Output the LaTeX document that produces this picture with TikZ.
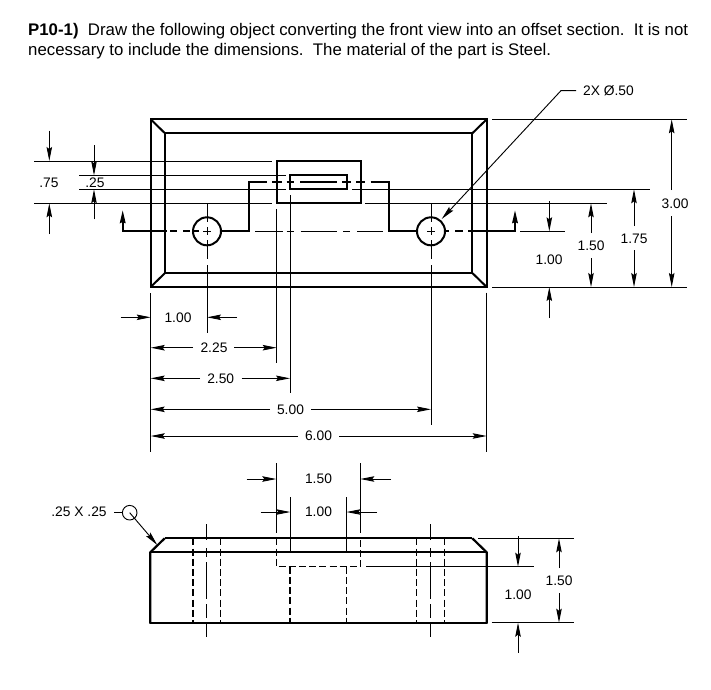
\documentclass[tikz,border=0pt]{standalone}
\usepackage{fontspec}
\setmainfont{Liberation Sans}
\usetikzlibrary{arrows.meta}
\tikzset{
  thin line/.style={line width=0.92pt,draw=black},
  thick line/.style={line width=2.2pt,draw=black,line cap=butt},
  mid line/.style={line width=2pt,draw=black},
  dimarrow/.style={thin line,-{Stealth[length=14pt,width=5.5pt,inset=2pt]}},
  lab/.style={font=\fontsize{13.8}{15}\selectfont,inner sep=0pt,text=black},
  title/.style={font=\fontsize{16.8}{18}\selectfont,inner sep=0pt,anchor=base west,text=black},
  hid/.style={line width=1.5pt,draw=black,dash pattern=on 7pt off 3.2pt},
}
\begin{document}
\begin{tikzpicture}[x=1pt,y=-1pt]
\useasboundingbox (0,0) rectangle (711,689);
\node[title] (t1) at (28,35) {\textbf{P10-1)}\ \ Draw the following object converting the front view into an offset section.\ \ It is not};
\node[title] (t2) at (28,55) {necessary to include the dimensions.\ \ The material of the part is Steel.};
% top view
\draw[thick line] (150.7,119.3) rectangle (486.7,287);
\draw[mid line] (165,133.3) rectangle (472.3,273);
\draw[mid line] (150.7,119.3)--(165,133.3) (486.7,119.3)--(472.3,133.3) (150.7,287)--(165,273) (486.7,287)--(472.3,273);
\draw[mid line] (276.7,161) rectangle (360.5,203);
\draw[mid line] (290,175.3) rectangle (347,189.3);
\draw[mid line] (207,231.3) circle (14);
\draw[mid line] (431,231.3) circle (14);
% section line
\draw[thick line,-{Stealth[length=13pt,width=5.5pt,inset=1pt]}] (166.7,231.3)--(122.7,231.3)--(122.7,210);
\draw[thick line,line join=miter] (221,231.3)--(249,231.3)--(249,182.3)--(266.7,182.3);
\draw[thick line] (170,231.3)--(177,231.3) (183,231.3)--(190,231.3) (193,231.3)--(199,231.3);
\draw[thick line] (272,182.3)--(281.7,182.3) (286.7,182.3)--(294,182.3) (342,182.3)--(350.7,182.3) (356,182.3)--(365,182.3);
\draw[mid line] (300,182.3)--(336.7,182.3);
\draw[thick line,line join=miter] (370.7,182.3)--(389,182.3)--(389,231.3)--(417,231.3);
\draw[thick line] (445,231.3)--(449,231.3) (455,231.3)--(463,231.3);
\draw[thick line,-{Stealth[length=13pt,width=5.5pt,inset=1pt]}] (468,231.3)--(515,231.3)--(515,210);
% center line
\draw[thin line] (255,231.3)--(282.7,231.3) (286.7,231.3)--(294,231.3) (300.7,231.3)--(336.7,231.3) (343,231.3)--(350,231.3) (357,231.3)--(383,231.3);
\draw[thin line] (203,231.3)--(211,231.3) (427,231.3)--(435,231.3);
% horizontal extensions
\draw[thin line] (34,161)--(271.7,161) (79.3,175.3)--(286,175.3) (79.3,189.3)--(286,189.3) (352,189.3)--(650,189.3) (34,203.3)--(272,203.3);
\draw[thin line] (365,203.3)--(607,203.3) (492,119.3)--(687,119.3) (492,287)--(687,287) (520,231.3)--(565,231.3);
% vertical extensions
\draw[thin line] (207,203)--(207,222) (207,227)--(207,235) (207,240)--(207,259) (207,265)--(207,332.7);
\draw[thin line] (431,203)--(431,222) (431,227)--(431,235) (431,240)--(431,259) (431,265)--(431,424.7);
\draw[thin line] (150.7,293)--(150.7,451.7) (486.7,292.7)--(486.7,451.7);
\draw[thin line] (276.7,209)--(276.7,362.7) (290,195)--(290,393.3);
% left dims
\draw[dimarrow] (49.3,130.7)--(49.3,161);
\draw[dimarrow] (49.3,234)--(49.3,203.3);
\draw[dimarrow] (94,145)--(94,175.3);
\draw[dimarrow] (94,219.3)--(94,189.3);
\node[lab] (d75) at (49,183) {.75};
\node[lab] (d25) at (95,183) {.25};
% right dims
\draw[dimarrow] (549.3,201)--(549.3,231.3);
\draw[dimarrow] (549.3,318)--(549.3,287);
\node[lab] (r100) at (549,259.5) {1.00};
\draw[dimarrow] (591,233)--(591,203.3);
\draw[dimarrow] (591,258)--(591,287);
\node[lab] (r150) at (591,245.5) {1.50};
\draw[dimarrow] (634,226)--(634,189.3);
\draw[dimarrow] (634,250)--(634,287);
\node[lab] (r175) at (634,239) {1.75};
\draw[dimarrow] (671.7,190)--(671.7,119.3);
\draw[dimarrow] (671.7,216)--(671.7,287);
\node[lab] (r300) at (675,203.5) {3.00};
% leader
\draw[thin line,-{Stealth[length=14pt,width=5.5pt,inset=2pt]}] (576,90.6)--(561,90.6)--(441.7,219);
\node[lab] (dia) at (608.5,90.6) {2X Ø.50};
% lower dims
\draw[dimarrow] (120.7,317.3)--(150.7,317.3);
\draw[dimarrow] (237,317.3)--(207,317.3);
\node[lab] (b100) at (178,317.5) {1.00};
\draw[dimarrow] (193,347.7)--(150.7,347.7);
\draw[dimarrow] (234,347.7)--(276.7,347.7);
\node[lab] (b225) at (214,347.7) {2.25};
\draw[dimarrow] (200,378.3)--(150.7,378.3);
\draw[dimarrow] (241.7,378.3)--(290,378.3);
\node[lab] (b250) at (220.7,378.3) {2.50};
\draw[dimarrow] (270,409.3)--(150.7,409.3);
\draw[dimarrow] (311,409.3)--(431,409.3);
\node[lab] (b500) at (290.5,409.3) {5.00};
\draw[dimarrow] (298,436)--(150.7,436);
\draw[dimarrow] (339,436)--(486.7,436);
\node[lab] (b600) at (318.5,436) {6.00};
% front view
\draw[mid line] (150.3,622.7)--(486.7,622.7);
\draw[mid line] (164.7,538.3)--(472.3,538.3);
\draw[thick line,line join=miter] (150.3,623.6)--(150.3,552.3)--(164.7,538.3);
\draw[thick line,line join=miter] (472.3,538.3)--(486.7,552.3)--(486.7,623.6);
\draw[mid line] (150.3,552.3)--(486.7,552.3);
\draw[hid] (193,538.3)--(193,622.7);
\draw[hid] (220.7,538.3)--(220.7,622.7);
\draw[hid] (416.3,538.3)--(416.3,622.7);
\draw[hid] (444.7,538.3)--(444.7,622.7);
\draw[thin line] (206.7,524.3)--(206.7,540) (206.7,548)--(206.7,557) (206.7,562)--(206.7,599) (206.7,604)--(206.7,618) (206.7,623)--(206.7,636.7);
\draw[thin line] (430.3,524.3)--(430.3,540) (430.3,548)--(430.3,557) (430.3,562)--(430.3,599) (430.3,604)--(430.3,618) (430.3,623)--(430.3,636.7);
\draw[thin line] (276.3,463)--(276.3,533) (360.3,463)--(360.3,533);
\draw[thin line] (290.3,497)--(290.3,552.3) (346.5,497)--(346.5,552.3);
\draw[hid,line width=1.2pt] (276.3,538.3)--(276.3,566.7)--(360.3,566.7)--(360.3,538.3);
\draw[hid,line width=1.8pt] (290.3,566.7)--(290.3,622.7);
\draw[hid,line width=1.8pt] (346.5,566.7)--(346.5,622.7);
% front extensions
\draw[thin line] (478.3,538.3)--(574.3,538.3) (366,566.7)--(534,566.7) (491.7,622.7)--(574.3,622.7);
% front dims
\draw[dimarrow] (518,536)--(518,566.7);
\draw[dimarrow] (518,652.7)--(518,622.7);
\node[lab] (f100) at (518,595) {1.00};
\draw[dimarrow] (559,568)--(559,538.3);
\draw[dimarrow] (559,593)--(559,622.7);
\node[lab] (f150) at (559,581) {1.50};
\draw[dimarrow] (246.7,479)--(276.3,479);
\draw[dimarrow] (391,479)--(360.3,479);
\node[lab] (t150) at (318.5,479) {1.50};
\draw[dimarrow] (260.7,512)--(290.3,512);
\draw[dimarrow] (377,512)--(346.5,512);
\node[lab] (t100) at (318.5,512) {1.00};
% chamfer note
\node[lab] (cham) at (79,511.7) {.25 X .25};
\node[draw=black,line width=0.92pt,circle,minimum size=14.6pt,inner sep=0pt] (bal) at (129.7,512.7) {};
\draw[thin line] (114,512.7)--(122.7,512.7);
\draw[thin line,-{Stealth[length=14pt,width=5.5pt,inset=2pt]}] (bal.center)--(157.3,545);
\end{tikzpicture}
\end{document}
